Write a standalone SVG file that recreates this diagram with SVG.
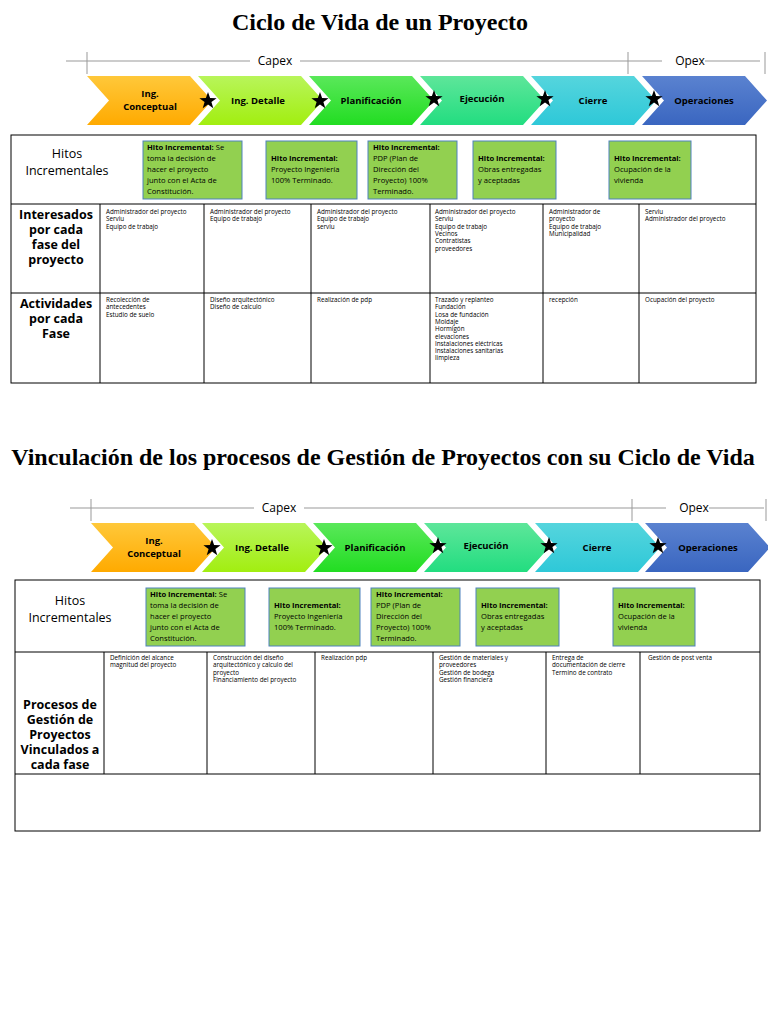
<svg xmlns="http://www.w3.org/2000/svg" width="768" height="1024" viewBox="0 0 768 1024">
<style>
.t{font-family:"Liberation Serif",serif;font-weight:bold;font-size:24px;text-anchor:middle}
.cap{font-family:"Open Sans",sans-serif;font-size:12px;text-anchor:middle}
.ch{font-family:"Open Sans",sans-serif;font-size:9.5px;font-weight:bold;text-anchor:middle}
.lbl{font-family:"Open Sans",sans-serif;font-size:12.5px;text-anchor:middle}
.lblb{font-family:"Open Sans",sans-serif;font-size:12.5px;font-weight:bold;text-anchor:middle}
.hb{fill:#92d050;stroke:#4f81bd;stroke-width:1}
.ht{font-family:"Open Sans",sans-serif;font-size:7.6px}
.c{font-family:"Open Sans",sans-serif;font-size:6.3px}
.ln{stroke:#000;stroke-width:1;fill:none}
.tl{stroke:#999;stroke-width:1}
.star{fill:#000}
</style>
<defs>
<linearGradient id="g1" x1="0" y1="0" x2="0" y2="1"><stop offset="0" stop-color="#ffc83a"/><stop offset="1" stop-color="#ffaa00"/></linearGradient>
<linearGradient id="g2" x1="0" y1="0" x2="0" y2="1"><stop offset="0" stop-color="#b8f55a"/><stop offset="1" stop-color="#a2ee10"/></linearGradient>
<linearGradient id="g3" x1="0" y1="0" x2="0" y2="1"><stop offset="0" stop-color="#5ae85a"/><stop offset="1" stop-color="#22dd22"/></linearGradient>
<linearGradient id="g4" x1="0" y1="0" x2="0" y2="1"><stop offset="0" stop-color="#5ee69a"/><stop offset="1" stop-color="#22dd80"/></linearGradient>
<linearGradient id="g5" x1="0" y1="0" x2="0" y2="1"><stop offset="0" stop-color="#55d5dd"/><stop offset="1" stop-color="#2ec8d8"/></linearGradient>
<linearGradient id="g6" x1="0" y1="0" x2="0" y2="1"><stop offset="0" stop-color="#5a82d0"/><stop offset="1" stop-color="#3a66c0"/></linearGradient>
<path id="chev" d="M0,0 H103 L125,24.5 L103,49 H0 L22,24.5 Z"/>
<path id="star" d="M0,-9 L2.1,-2.9 L8.6,-2.8 L3.4,1.1 L5.3,7.3 L0,3.6 L-5.3,7.3 L-3.4,1.1 L-8.6,-2.8 L-2.1,-2.9 Z"/>
</defs>
<rect width="768" height="1024" fill="#fff"/>

<!-- ===== Section 1 ===== -->
<text class="t" x="380" y="30">Ciclo de Vida de un Proyecto</text>
<g id="timeline1">
<line class="tl" x1="66" y1="61" x2="250" y2="61"/><line class="tl" x1="300" y1="61" x2="662" y2="61"/>
<line class="tl" x1="705" y1="61" x2="760" y2="61"/>
<line class="tl" x1="87" y1="52" x2="87" y2="74"/><line class="tl" x1="628" y1="52" x2="628" y2="74"/><line class="tl" x1="765" y1="52" x2="765" y2="74"/>
<text class="cap" x="275" y="65">Capex</text><text class="cap" x="690" y="65">Opex</text>
</g>
<g id="phases1">
<use href="#chev" x="87" y="76" fill="url(#g1)"/><use href="#chev" x="198" y="76" fill="url(#g2)"/>
<use href="#chev" x="309" y="76" fill="url(#g3)"/><use href="#chev" x="420" y="76" fill="url(#g4)"/>
<use href="#chev" x="531" y="76" fill="url(#g5)"/><use href="#chev" x="642" y="76" fill="url(#g6)"/>
<text class="ch" x="150" y="97">Ing.</text><text class="ch" x="150" y="110">Conceptual</text>
<text class="ch" x="258" y="104">Ing. Detalle</text><text class="ch" x="371" y="104">Planificación</text>
<text class="ch" x="482" y="102">Ejecución</text><text class="ch" x="593" y="104">Cierre</text>
<text class="ch" x="704" y="104">Operaciones</text>
<use href="#star" class="star" x="208" y="101"/><use href="#star" class="star" x="320" y="101"/>
<use href="#star" class="star" x="434" y="99"/><use href="#star" class="star" x="545" y="99"/><use href="#star" class="star" x="654" y="99"/>
</g>
<g id="table1">
<rect class="ln" x="11" y="135" width="745" height="248" stroke-width="1.5"/>
<line class="ln" x1="11" y1="204" x2="756" y2="204"/><line class="ln" x1="11" y1="293" x2="756" y2="293"/>
<line class="ln" x1="100" y1="204" x2="100" y2="383"/><line class="ln" x1="204" y1="204" x2="204" y2="383"/>
<line class="ln" x1="311" y1="204" x2="311" y2="383"/><line class="ln" x1="430" y1="204" x2="430" y2="383"/>
<line class="ln" x1="543" y1="204" x2="543" y2="383"/><line class="ln" x1="639" y1="204" x2="639" y2="383"/>
<text class="lbl" x="67" y="158">Hitos</text><text class="lbl" x="67" y="175">Incrementales</text>
<text class="lblb" x="56" y="219">Interesados</text><text class="lblb" x="56" y="234">por cada</text><text class="lblb" x="56" y="249">fase del</text><text class="lblb" x="56" y="264">proyecto</text>
<text class="lblb" x="56" y="308">Actividades</text><text class="lblb" x="56" y="323">por cada</text><text class="lblb" x="56" y="338">Fase</text>
</g>
<g id="hitos1">
<rect class="hb" x="143" y="141" width="99" height="58"/>
<text class="ht" x="147" y="150"><tspan font-weight="bold">Hito Incremental:</tspan> Se<tspan x="147" dy="11">toma la decisión de</tspan><tspan x="147" dy="11">hacer el proyecto</tspan><tspan x="147" dy="11">junto con el Acta de</tspan><tspan x="147" dy="11">Constitución.</tspan></text>
<rect class="hb" x="266" y="141" width="91" height="58"/>
<text class="ht" x="271" y="161"><tspan font-weight="bold">Hito Incremental:</tspan><tspan x="271" dy="11">Proyecto Ingeniería</tspan><tspan x="271" dy="11">100% Terminado.</tspan></text>
<rect class="hb" x="368" y="141" width="89" height="58"/>
<text class="ht" x="373" y="150"><tspan font-weight="bold">Hito Incremental:</tspan><tspan x="373" dy="11">PDP (Plan de</tspan><tspan x="373" dy="11">Dirección del</tspan><tspan x="373" dy="11">Proyecto) 100%</tspan><tspan x="373" dy="11">Terminado.</tspan></text>
<rect class="hb" x="473" y="141" width="83" height="58"/>
<text class="ht" x="478" y="161"><tspan font-weight="bold">Hito Incremental:</tspan><tspan x="478" dy="11">Obras entregadas</tspan><tspan x="478" dy="11">y aceptadas</tspan></text>
<rect class="hb" x="609" y="141" width="82" height="58"/>
<text class="ht" x="614" y="161"><tspan font-weight="bold">Hito Incremental:</tspan><tspan x="614" dy="11">Ocupación de la</tspan><tspan x="614" dy="11">vivienda</tspan></text>
</g>
<g id="cells1">
<text class="c" x="106" y="214">Administrador del proyecto<tspan x="106" dy="7.3">Serviu</tspan><tspan x="106" dy="7.3">Equipo de trabajo</tspan></text>
<text class="c" x="210" y="214">Administrador del proyecto<tspan x="210" dy="7.3">Equipo de trabajo</tspan></text>
<text class="c" x="317" y="214">Administrador del proyecto<tspan x="317" dy="7.3">Equipo de trabajo</tspan><tspan x="317" dy="7.3">serviu</tspan></text>
<text class="c" x="435" y="214">Administrador del proyecto<tspan x="435" dy="7.3">Serviu</tspan><tspan x="435" dy="7.3">Equipo de trabajo</tspan><tspan x="435" dy="7.3">Vecinos</tspan><tspan x="435" dy="7.3">Contratistas</tspan><tspan x="435" dy="7.3">proveedores</tspan></text>
<text class="c" x="549" y="214">Administrador de<tspan x="549" dy="7.3">proyecto</tspan><tspan x="549" dy="7.3">Equipo de trabajo</tspan><tspan x="549" dy="7.3">Municipalidad</tspan></text>
<text class="c" x="645" y="214">Serviu<tspan x="645" dy="7.3">Administrador del proyecto</tspan></text>
<text class="c" x="106" y="302">Recolección de<tspan x="106" dy="7.3">antecedentes</tspan><tspan x="106" dy="7.3">Estudio de suelo</tspan></text>
<text class="c" x="210" y="302">Diseño arquitectónico<tspan x="210" dy="7.3">Diseño de calculo</tspan></text>
<text class="c" x="317" y="302">Realización de pdp</text>
<text class="c" x="435" y="302">Trazado y replanteo<tspan x="435" dy="7.3">Fundación</tspan><tspan x="435" dy="7.3">Losa de fundación</tspan><tspan x="435" dy="7.3">Moldaje</tspan><tspan x="435" dy="7.3">Hormigón</tspan><tspan x="435" dy="7.3">elevaciones</tspan><tspan x="435" dy="7.3">Instalaciones eléctricas</tspan><tspan x="435" dy="7.3">Instalaciones sanitarias</tspan><tspan x="435" dy="7.3">limpieza</tspan></text>
<text class="c" x="549" y="302">recepción</text>
<text class="c" x="645" y="302">Ocupación del proyecto</text>
</g>

<!-- ===== Section 2 ===== -->
<text class="t" x="383" y="465" font-size="22">Vinculación de los procesos de Gestión de Proyectos con su Ciclo de Vida</text>
<g id="timeline2">
<line class="tl" x1="70" y1="508" x2="254" y2="508"/><line class="tl" x1="304" y1="508" x2="666" y2="508"/>
<line class="tl" x1="709" y1="508" x2="764" y2="508"/>
<line class="tl" x1="91" y1="499" x2="91" y2="521"/><line class="tl" x1="632" y1="499" x2="632" y2="521"/><line class="tl" x1="766" y1="499" x2="766" y2="521"/>
<text class="cap" x="279" y="512">Capex</text><text class="cap" x="694" y="512">Opex</text>
</g>
<g id="phases2">
<use href="#chev" x="91" y="523" fill="url(#g1)"/><use href="#chev" x="202" y="523" fill="url(#g2)"/>
<use href="#chev" x="313" y="523" fill="url(#g3)"/><use href="#chev" x="424" y="523" fill="url(#g4)"/>
<use href="#chev" x="535" y="523" fill="url(#g5)"/><use href="#chev" x="645" y="523" fill="url(#g6)"/>
<text class="ch" x="154" y="544">Ing.</text><text class="ch" x="154" y="557">Conceptual</text>
<text class="ch" x="262" y="551">Ing. Detalle</text><text class="ch" x="375" y="551">Planificación</text>
<text class="ch" x="486" y="549">Ejecución</text><text class="ch" x="597" y="551">Cierre</text>
<text class="ch" x="708" y="551">Operaciones</text>
<use href="#star" class="star" x="212" y="548"/><use href="#star" class="star" x="324" y="548"/>
<use href="#star" class="star" x="438" y="546"/><use href="#star" class="star" x="549" y="546"/><use href="#star" class="star" x="658" y="546"/>
</g>
<g id="table2">
<rect class="ln" x="15" y="580" width="745" height="251"/>
<line class="ln" x1="15" y1="652" x2="760" y2="652"/><line class="ln" x1="15" y1="774" x2="760" y2="774"/>
<line class="ln" x1="104" y1="652" x2="104" y2="774"/><line class="ln" x1="207" y1="652" x2="207" y2="774"/>
<line class="ln" x1="315" y1="652" x2="315" y2="774"/><line class="ln" x1="433" y1="652" x2="433" y2="774"/>
<line class="ln" x1="546" y1="652" x2="546" y2="774"/><line class="ln" x1="640" y1="652" x2="640" y2="774"/>
<text class="lbl" x="70" y="605">Hitos</text><text class="lbl" x="70" y="622">Incrementales</text>
<text class="lblb" x="60" y="709">Procesos de</text><text class="lblb" x="60" y="724">Gestión de</text><text class="lblb" x="60" y="739">Proyectos</text><text class="lblb" x="60" y="754">Vinculados a</text><text class="lblb" x="60" y="769">cada fase</text>
</g>
<g id="hitos2">
<rect class="hb" x="146" y="588" width="99" height="58"/>
<text class="ht" x="150" y="597"><tspan font-weight="bold">Hito Incremental:</tspan> Se<tspan x="150" dy="11">toma la decisión de</tspan><tspan x="150" dy="11">hacer el proyecto</tspan><tspan x="150" dy="11">junto con el Acta de</tspan><tspan x="150" dy="11">Constitución.</tspan></text>
<rect class="hb" x="269" y="588" width="91" height="58"/>
<text class="ht" x="274" y="608"><tspan font-weight="bold">Hito Incremental:</tspan><tspan x="274" dy="11">Proyecto Ingeniería</tspan><tspan x="274" dy="11">100% Terminado.</tspan></text>
<rect class="hb" x="371" y="588" width="89" height="58"/>
<text class="ht" x="376" y="597"><tspan font-weight="bold">Hito Incremental:</tspan><tspan x="376" dy="11">PDP (Plan de</tspan><tspan x="376" dy="11">Dirección del</tspan><tspan x="376" dy="11">Proyecto) 100%</tspan><tspan x="376" dy="11">Terminado.</tspan></text>
<rect class="hb" x="476" y="588" width="83" height="58"/>
<text class="ht" x="481" y="608"><tspan font-weight="bold">Hito Incremental:</tspan><tspan x="481" dy="11">Obras entregadas</tspan><tspan x="481" dy="11">y aceptadas</tspan></text>
<rect class="hb" x="613" y="588" width="82" height="58"/>
<text class="ht" x="618" y="608"><tspan font-weight="bold">Hito Incremental:</tspan><tspan x="618" dy="11">Ocupación de la</tspan><tspan x="618" dy="11">vivienda</tspan></text>
</g>
<g id="cells2">
<text class="c" x="110" y="660">Definición del alcance<tspan x="110" dy="7.3">magnitud del proyecto</tspan></text>
<text class="c" x="213" y="660">Construcción del diseño<tspan x="213" dy="7.3">arquitectónico  y calculo del</tspan><tspan x="213" dy="7.3">proyecto</tspan><tspan x="213" dy="7.3">Financiamiento del proyecto</tspan></text>
<text class="c" x="321" y="660">Realización pdp</text>
<text class="c" x="439" y="660">Gestión de materiales y<tspan x="439" dy="7.3">proveedores</tspan><tspan x="439" dy="7.3">Gestión de bodega</tspan><tspan x="439" dy="7.3">Gestión financiera</tspan></text>
<text class="c" x="552" y="660">Entrega de<tspan x="552" dy="7.3">documentación de cierre</tspan><tspan x="552" dy="7.3">Termino de contrato</tspan></text>
<text class="c" x="648" y="660">Gestión  de post venta</text>
</g>
</svg>
